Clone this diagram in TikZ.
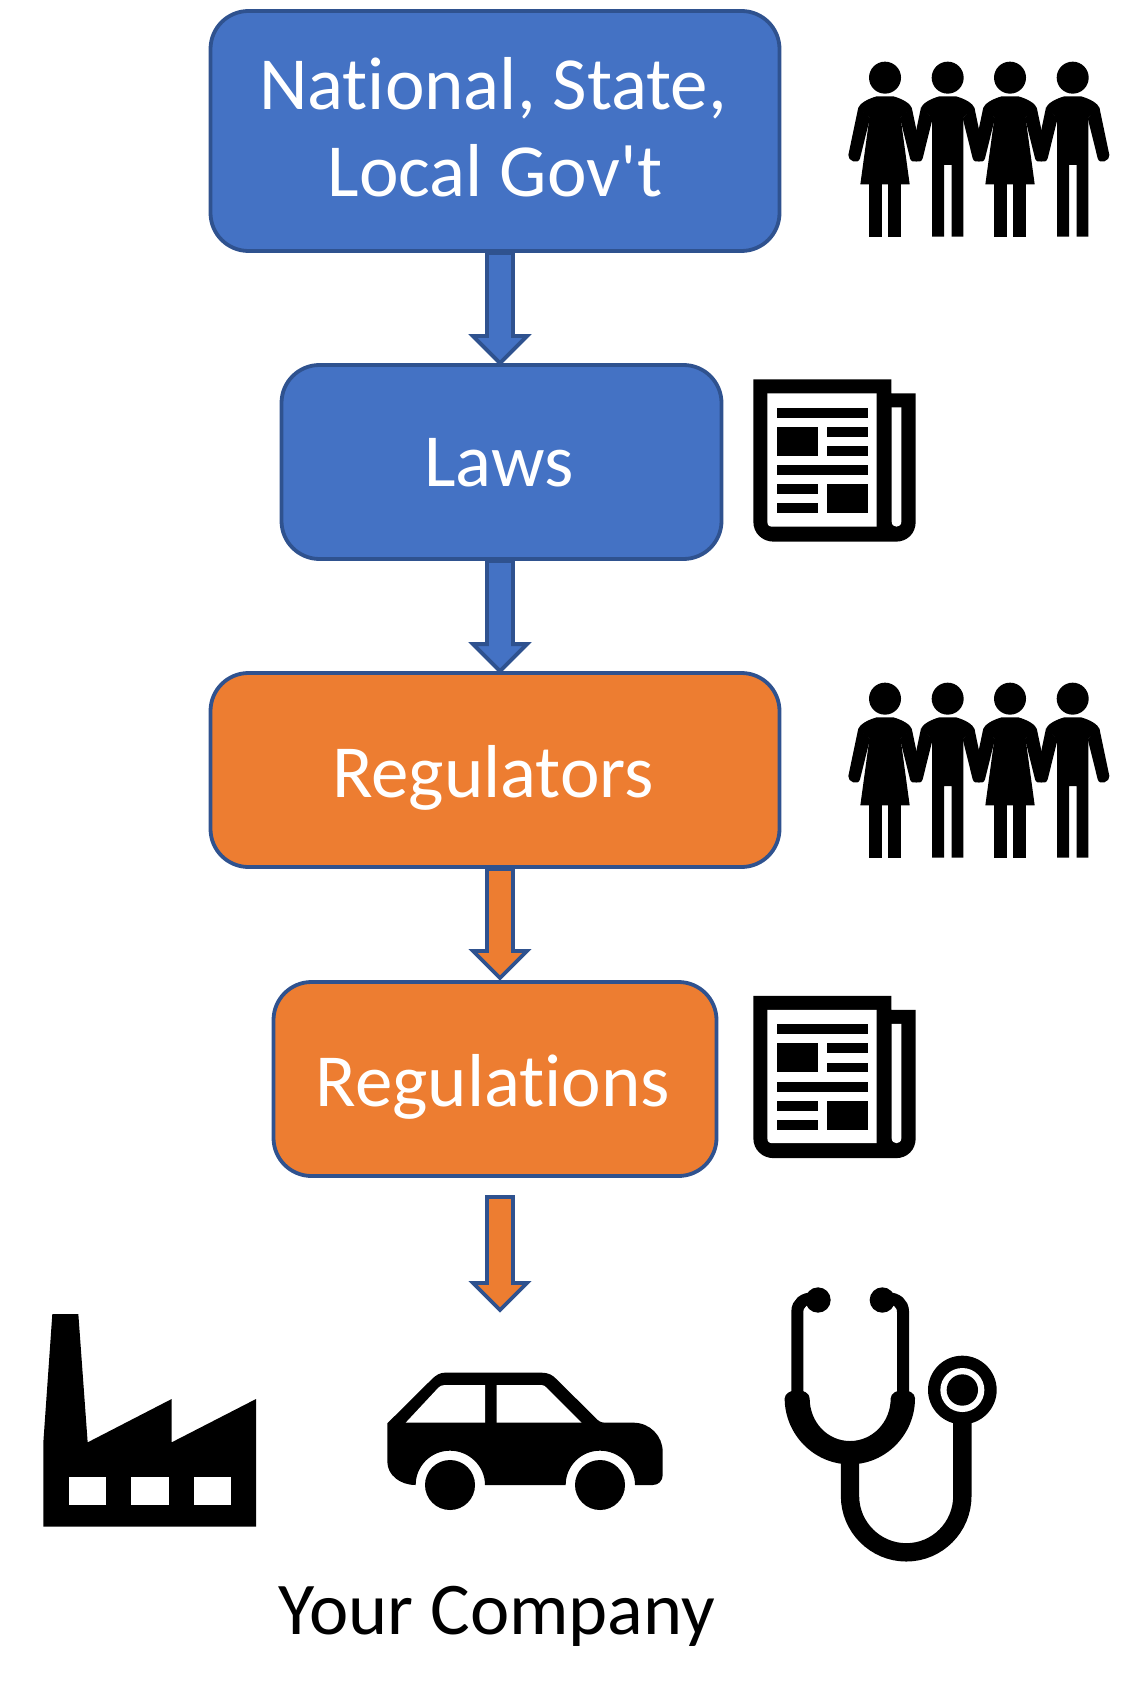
\documentclass[tikz,border=0pt]{standalone}
\usepackage{fontspec}
\newfontfamily\labelfont{Carlito}[Ligatures=NoCommon]
\usetikzlibrary{calc}
\definecolor{boxblue}{HTML}{4472C4}
\definecolor{boxorange}{HTML}{ED7D31}
\definecolor{edgeblue}{HTML}{2F528F}

% 1 unit = 1 reference pixel
\tikzset{
  box/.style={draw=edgeblue, line width=1.9pt, rounded corners=19pt, text=white, align=center,
    font=\labelfont\fontsize{37.5}{43.5}\selectfont, inner sep=0pt},
  oneline/.style={text height=30pt, text depth=2.5pt},
  blockarr/.style={draw=edgeblue, line width=1.9pt, miter limit=10, line join=miter},
  icon/.style={x=0.16667pt, y=-0.16667pt},
  person arm/.pic={
    \fill (-80,232) -- (-110,375) .. controls (-113,392) and (-80,405) .. (-75,385) -- (-45,264) -- cycle;
    \fill (80,232) -- (110,375) .. controls (113,392) and (80,405) .. (75,385) -- (45,264) -- cycle;
    \fill (0,143) circle[radius=48];
    \fill (-80,236) .. controls (-78,220) and (-50,206) .. (-25,199) -- (25,199)
      .. controls (50,206) and (78,220) .. (80,236) -- (45,264) -- (-45,264) -- cycle;
  },
  woman/.pic={
    \pic {person arm};
    \fill (-45,250) -- (45,250) -- (74,463) -- (-74,463) -- cycle;
    \fill (-47,455) rectangle (-8,620);
    \fill (10,455) rectangle (48,620);
  },
  man/.pic={
    \pic {person arm};
    \fill (-47,250) -- (47,250) -- (47,620) -- (12,620) -- (12,405) -- (-11,405) -- (-11,620) -- (-47,620) -- cycle;
  },
  people/.pic={
    \begin{scope}[icon]
      \pic at (255,0) {woman};
      \pic at (443,0) {man};
      \pic at (630,0) {woman};
      \pic at (818,0) {man};
    \end{scope}
  },
  newspaper/.pic={
    \begin{scope}[icon]
      \fill (103,88) -- (517,88) -- (517,130) -- (590,130) -- (590,515)
        .. controls (590,550) and (565,575) .. (530,575) -- (165,575)
        .. controls (130,575) and (103,550) .. (103,515) -- cycle;
      \fill[white] (145,130) -- (473,130) -- (473,530) -- (160,530)
        .. controls (150,530) and (145,525) .. (145,515) -- cycle;
      \fill[white] (518,172) -- (547,172) -- (547,515)
        .. controls (547,535) and (518,535) .. (518,515) -- cycle;
      \fill (173,173) rectangle (447,203);
      \fill (173,230) rectangle (297,317);
      \fill (323,230) rectangle (447,260);
      \fill (323,288) rectangle (447,317);
      \fill (173,345) rectangle (447,375);
      \fill (173,402) rectangle (297,432);
      \fill (173,460) rectangle (297,489);
      \fill (323,402) rectangle (447,489);
    \end{scope}
  },
  factory/.pic={
    \begin{scope}[icon]
      \fill (97,132) -- (175,132) -- (203,517) -- (455,387) -- (455,517) -- (708,387)
        -- (708,770) -- (70,770) -- (70,517) -- cycle;
      \fill[white] (146,621) rectangle (258,706);
      \fill[white] (333,621) rectangle (446,706);
      \fill[white] (521,621) rectangle (633,706);
    \end{scope}
  },
  car/.pic={
    \begin{scope}[icon]
      \fill (82,310) -- (215,178) .. controls (228,165) and (240,158) .. (255,158) -- (545,158)
        .. controls (565,158) and (578,165) .. (590,178) -- (705,292)
        .. controls (715,303) and (722,308) .. (735,308) -- (820,308)
        .. controls (870,308) and (908,348) .. (908,395) -- (908,465)
        .. controls (908,483) and (895,495) .. (878,495) -- (825,495)
        .. controls (825,438) and (777,392) .. (720,392)
        .. controls (663,392) and (617,438) .. (617,495) -- (375,495)
        .. controls (375,438) and (327,392) .. (270,392)
        .. controls (213,392) and (167,438) .. (167,495)
        .. controls (120,495) and (82,465) .. (82,425) -- cycle;
      \fill (270,495) circle[radius=75];
      \fill (720,495) circle[radius=75];
      \fill[white] (137,308) -- (375,308) -- (375,195) -- (255,195)
        .. controls (245,195) and (240,198) .. (235,203) -- cycle;
      \fill[white] (410,308) -- (665,308) -- (560,203)
        .. controls (555,198) and (550,195) .. (545,195) -- (410,195) -- cycle;
    \end{scope}
  },
  stethoscope/.pic={
    \begin{scope}[icon]
      \draw[line width=6pt] (145,430) -- (145,185) .. controls (145,160) and (165,145) .. (190,145);
      \draw[line width=6pt] (462,430) -- (462,185) .. controls (462,160) and (442,145) .. (417,145);
      \fill (207,150) circle[radius=38];
      \fill (400,150) circle[radius=38];
      \fill (107,445) .. controls (107,553) and (195,643) .. (303,643)
        .. controls (411,643) and (498,553) .. (498,445)
        .. controls (498,430) and (480,420) .. (462,420)
        .. controls (444,420) and (425,430) .. (425,445)
        .. controls (425,517) and (370,573) .. (303,573)
        .. controls (236,573) and (182,517) .. (182,445)
        .. controls (182,430) and (163,420) .. (145,420)
        .. controls (127,420) and (107,430) .. cycle;
      \draw[line width=9.17pt] (303,620) -- (303,738)
        .. controls (303,831) and (379,907) .. (472,907)
        .. controls (565,907) and (640,831) .. (640,738) -- (640,500);
      \fill (640,420) circle[radius=103];
      \fill[white] (640,420) circle[radius=66];
      \fill (640,420) circle[radius=47];
    \end{scope}
  }
}

% block arrow between two points: shaft half width 6.5pt, head half width 13.5pt
\newcommand{\blockarrow}[3]{%
  \draw[blockarr, fill=#3] let \p1=(#1), \p2=(#2) in
    (\x1-6.5pt,\y1) -- (\x1+6.5pt,\y1) -- (\x1+6.5pt,\y2+13.5pt) -- (\x1+13.5pt,\y2+13.5pt)
    -- (\x2,\y2) -- (\x1-13.5pt,\y2+13.5pt) -- (\x1-6.5pt,\y2+13.5pt) -- cycle;
}

\begin{document}
\begin{tikzpicture}[x=0.5pt, y=-0.5pt]
  \useasboundingbox (0,0) rectangle (1129,1700);

  % boxes
  \node[box, fill=boxblue, minimum width=284.5pt, minimum height=120pt, text depth=4.4pt] (gov) at (495,131) {National, State,\kern2pt\\Local Gov't};
  \node[box, oneline, text depth=5.5pt, fill=boxblue, minimum width=220pt, minimum height=97pt] (laws) at (501.5,462) {Laws\kern2.7pt};
  \node[box, oneline, fill=boxorange, minimum width=284.5pt, minimum height=97pt] (regulators) at (495,770) {Regulators\kern2pt};
  \node[box, oneline, fill=boxorange, minimum width=221.5pt, minimum height=97pt] (regulations) at (495,1079) {Regulations\kern2pt};

  \coordinate (axis) at (500,0);
  \coordinate (tip3) at (500,978);
  \coordinate (start4) at (500,1197);
  \coordinate (tip4) at (500,1310);

  % arrows
  \blockarrow{axis |- gov.south}{axis |- laws.north}{boxblue}
  \blockarrow{axis |- laws.south}{axis |- regulators.north}{boxblue}
  \blockarrow{axis |- regulators.south}{tip3}{boxorange}
  \blockarrow{start4}{tip4}{boxorange}

  % icons
  \pic at (800,30) {people};
  \pic at (800,651) {people};
  \pic at (719,350) {newspaper};
  \pic at (719,966.5) {newspaper};
  \pic at (20,1270) {factory};
  \pic at (360,1320) {car};
  \pic at (749,1250) {stethoscope};

  \node[font=\labelfont\fontsize{37.2}{43.5}\selectfont, inner sep=0pt] (company) at (497,1616) {Your Company};
\end{tikzpicture}
\end{document}
